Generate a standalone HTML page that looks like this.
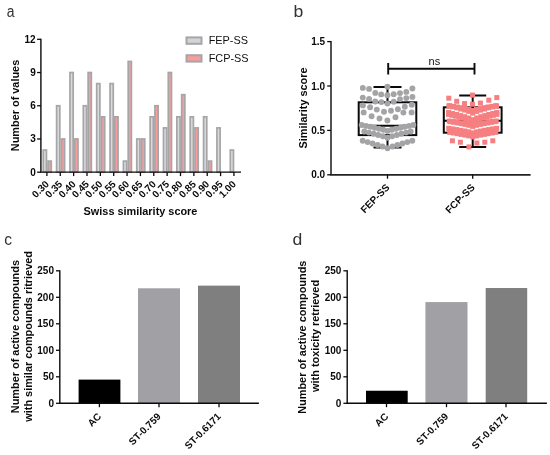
<!DOCTYPE html>
<html><head><meta charset="utf-8"><title>Figure</title>
<style>
html,body{margin:0;padding:0;background:#fff;}
body{width:550px;height:455px;overflow:hidden;}
svg{display:block;font-family:"Liberation Sans",sans-serif;}
.b{font-weight:bold;fill:#0a0a0a;font-size:10.9px;}
.t{font-size:10px;font-weight:bold;fill:#0a0a0a;}
.ax{stroke:#0a0a0a;stroke-width:1.4;fill:none;}
.tk{stroke:#0a0a0a;stroke-width:1.3;fill:none;}
.bx{stroke:#0a0a0a;stroke-width:2;fill:none;}
.pl{font-size:16px;fill:#333;}
</style></head><body>
<svg width="550" height="455" viewBox="0 0 550 455">
<rect width="550" height="455" fill="#fff"/>

<text class="pl" transform="translate(6.8 16.9) scale(0.87 1)">a</text>
<text class="pl" transform="translate(293.4 16.9) scale(1.1 1)">b</text>
<text class="pl" transform="translate(4.3 245) scale(0.97 1)">c</text>
<text class="pl" transform="translate(292.6 245.1) scale(1.1 1)">d</text>
<g id="pa">
<rect x="43.25" y="150.05" width="3.2" height="22.15" fill="#dadadb" stroke="#a6a6a9" stroke-width="1.7"/>
<rect x="48.05" y="161.12" width="3.2" height="11.07" fill="#f99c9c" stroke="#a6a6a9" stroke-width="1.7"/>
<rect x="56.61" y="105.75" width="3.2" height="66.45" fill="#dadadb" stroke="#a6a6a9" stroke-width="1.7"/>
<rect x="61.41" y="138.97" width="3.2" height="33.22" fill="#f99c9c" stroke="#a6a6a9" stroke-width="1.7"/>
<rect x="69.97" y="72.53" width="3.2" height="99.67" fill="#dadadb" stroke="#a6a6a9" stroke-width="1.7"/>
<rect x="74.77" y="138.97" width="3.2" height="33.22" fill="#f99c9c" stroke="#a6a6a9" stroke-width="1.7"/>
<rect x="83.33" y="105.75" width="3.2" height="66.45" fill="#dadadb" stroke="#a6a6a9" stroke-width="1.7"/>
<rect x="88.13" y="72.53" width="3.2" height="99.67" fill="#f99c9c" stroke="#a6a6a9" stroke-width="1.7"/>
<rect x="96.69" y="83.60" width="3.2" height="88.60" fill="#dadadb" stroke="#a6a6a9" stroke-width="1.7"/>
<rect x="101.49" y="116.83" width="3.2" height="55.37" fill="#f99c9c" stroke="#a6a6a9" stroke-width="1.7"/>
<rect x="110.05" y="83.60" width="3.2" height="88.60" fill="#dadadb" stroke="#a6a6a9" stroke-width="1.7"/>
<rect x="114.85" y="116.83" width="3.2" height="55.37" fill="#f99c9c" stroke="#a6a6a9" stroke-width="1.7"/>
<rect x="123.41" y="161.12" width="3.2" height="11.07" fill="#dadadb" stroke="#a6a6a9" stroke-width="1.7"/>
<rect x="128.21" y="61.45" width="3.2" height="110.75" fill="#f99c9c" stroke="#a6a6a9" stroke-width="1.7"/>
<rect x="136.77" y="138.97" width="3.2" height="33.22" fill="#dadadb" stroke="#a6a6a9" stroke-width="1.7"/>
<rect x="141.57" y="138.97" width="3.2" height="33.22" fill="#f99c9c" stroke="#a6a6a9" stroke-width="1.7"/>
<rect x="150.13" y="116.83" width="3.2" height="55.37" fill="#dadadb" stroke="#a6a6a9" stroke-width="1.7"/>
<rect x="154.93" y="105.75" width="3.2" height="66.45" fill="#f99c9c" stroke="#a6a6a9" stroke-width="1.7"/>
<rect x="163.49" y="127.90" width="3.2" height="44.30" fill="#dadadb" stroke="#a6a6a9" stroke-width="1.7"/>
<rect x="168.29" y="72.53" width="3.2" height="99.67" fill="#f99c9c" stroke="#a6a6a9" stroke-width="1.7"/>
<rect x="176.85" y="116.83" width="3.2" height="55.37" fill="#dadadb" stroke="#a6a6a9" stroke-width="1.7"/>
<rect x="181.65" y="94.68" width="3.2" height="77.52" fill="#f99c9c" stroke="#a6a6a9" stroke-width="1.7"/>
<rect x="190.21" y="116.83" width="3.2" height="55.37" fill="#dadadb" stroke="#a6a6a9" stroke-width="1.7"/>
<rect x="195.01" y="127.90" width="3.2" height="44.30" fill="#f99c9c" stroke="#a6a6a9" stroke-width="1.7"/>
<rect x="203.57" y="116.83" width="3.2" height="55.37" fill="#dadadb" stroke="#a6a6a9" stroke-width="1.7"/>
<rect x="208.37" y="161.12" width="3.2" height="11.07" fill="#f99c9c" stroke="#a6a6a9" stroke-width="1.7"/>
<rect x="216.93" y="127.90" width="3.2" height="44.30" fill="#dadadb" stroke="#a6a6a9" stroke-width="1.7"/>
<rect x="230.29" y="150.05" width="3.2" height="22.15" fill="#dadadb" stroke="#a6a6a9" stroke-width="1.7"/>
<path class="ax" d="M40.9 38.75V172.2"/>
<path class="ax" style="stroke-width:1.3" d="M40.199999999999996 172.2H241"/>
<path class="tk" d="M37.10 172.20H40.9"/>
<text class="t" x="35.70" y="175.70" text-anchor="end">0</text>
<path class="tk" d="M37.10 138.97H40.9"/>
<text class="t" x="35.70" y="142.47" text-anchor="end">3</text>
<path class="tk" d="M37.10 105.75H40.9"/>
<text class="t" x="35.70" y="109.25" text-anchor="end">6</text>
<path class="tk" d="M37.10 72.53H40.9"/>
<text class="t" x="35.70" y="76.03" text-anchor="end">9</text>
<path class="tk" d="M37.10 39.30H40.9"/>
<text class="t" x="35.70" y="42.80" text-anchor="end">12</text>
<path class="tk" d="M46.90 172.2V176.10"/>
<text class="t" text-anchor="end" transform="translate(49.70 184.70) rotate(-45)">0.30</text>
<path class="tk" d="M60.26 172.2V176.10"/>
<text class="t" text-anchor="end" transform="translate(63.06 184.70) rotate(-45)">0.35</text>
<path class="tk" d="M73.62 172.2V176.10"/>
<text class="t" text-anchor="end" transform="translate(76.42 184.70) rotate(-45)">0.40</text>
<path class="tk" d="M86.98 172.2V176.10"/>
<text class="t" text-anchor="end" transform="translate(89.78 184.70) rotate(-45)">0.45</text>
<path class="tk" d="M100.34 172.2V176.10"/>
<text class="t" text-anchor="end" transform="translate(103.14 184.70) rotate(-45)">0.50</text>
<path class="tk" d="M113.70 172.2V176.10"/>
<text class="t" text-anchor="end" transform="translate(116.50 184.70) rotate(-45)">0.55</text>
<path class="tk" d="M127.06 172.2V176.10"/>
<text class="t" text-anchor="end" transform="translate(129.86 184.70) rotate(-45)">0.60</text>
<path class="tk" d="M140.42 172.2V176.10"/>
<text class="t" text-anchor="end" transform="translate(143.22 184.70) rotate(-45)">0.65</text>
<path class="tk" d="M153.78 172.2V176.10"/>
<text class="t" text-anchor="end" transform="translate(156.58 184.70) rotate(-45)">0.70</text>
<path class="tk" d="M167.14 172.2V176.10"/>
<text class="t" text-anchor="end" transform="translate(169.94 184.70) rotate(-45)">0.75</text>
<path class="tk" d="M180.50 172.2V176.10"/>
<text class="t" text-anchor="end" transform="translate(183.30 184.70) rotate(-45)">0.80</text>
<path class="tk" d="M193.86 172.2V176.10"/>
<text class="t" text-anchor="end" transform="translate(196.66 184.70) rotate(-45)">0.85</text>
<path class="tk" d="M207.22 172.2V176.10"/>
<text class="t" text-anchor="end" transform="translate(210.02 184.70) rotate(-45)">0.90</text>
<path class="tk" d="M220.58 172.2V176.10"/>
<text class="t" text-anchor="end" transform="translate(223.38 184.70) rotate(-45)">0.95</text>
<path class="tk" d="M233.94 172.2V176.10"/>
<text class="t" text-anchor="end" transform="translate(236.74 184.70) rotate(-45)">1.00</text>
<text class="b" x="140.5" y="214.8" text-anchor="middle">Swiss similarity score</text>
<text class="b" text-anchor="middle" transform="translate(19.3 105.5) rotate(-90)">Number of values</text>
<rect x="186.5" y="37.4" width="15" height="6.4" fill="#d4d4d6" stroke="#a6a6a9" stroke-width="2"/>
<rect x="186.5" y="55.2" width="15" height="6.4" fill="#f99c9c" stroke="#a6a6a9" stroke-width="2"/>
<text x="208.7" y="43.8" font-size="10.9" fill="#111">FEP-SS</text>
<text x="208.7" y="61.8" font-size="10.9" fill="#111">FCP-SS</text>
</g>
<g id="pb">
<path class="ax" d="M331.0 41.05V174.8"/>
<path class="ax" style="stroke-width:1.6;stroke:#222" d="M330.3 174.9H530.6"/>
<path class="tk" d="M327.20 174.80H331.0"/>
<text class="t" x="325.20" y="178.30" text-anchor="end">0.0</text>
<path class="tk" d="M327.20 130.40H331.0"/>
<text class="t" x="325.20" y="133.90" text-anchor="end">0.5</text>
<path class="tk" d="M327.20 86.00H331.0"/>
<text class="t" x="325.20" y="89.50" text-anchor="end">1.0</text>
<path class="tk" d="M327.20 41.60H331.0"/>
<text class="t" x="325.20" y="45.10" text-anchor="end">1.5</text>
<path class="tk" d="M387.5 174.8V178.70"/>
<text class="t" text-anchor="end" transform="translate(390.20 188.10) rotate(-45)">FEP-SS</text>
<path class="tk" d="M472.7 174.8V178.70"/>
<text class="t" text-anchor="end" transform="translate(475.40 188.10) rotate(-45)">FCP-SS</text>
<text class="b" text-anchor="middle" transform="translate(306.8 108) rotate(-90)">Similarity score</text>
<path class="bx" d="M387.5 87.00V102.30M387.5 135.10V147.40M373.5 87.00H401.5M373.5 147.40H401.5M358.7 125.80H416.3"/><rect class="bx" x="358.7" y="102.30" width="57.6" height="32.80"/>
<path class="bx" d="M472.7 95.50V107.30M472.7 132.70V147.10M459.2 95.50H486.2M459.2 147.10H486.2M443.8 120.80H501.59999999999997"/><rect class="bx" x="443.8" y="107.30" width="57.8" height="25.40"/>
<g fill="#a4a4a7">
<circle cx="362.8" cy="87.9" r="2.95"/>
<circle cx="369.1" cy="88.9" r="2.95"/>
<circle cx="387.4" cy="86.8" r="2.95"/>
<circle cx="412.4" cy="88.5" r="2.95"/>
<circle cx="375.3" cy="92.9" r="2.95"/>
<circle cx="381.2" cy="94.4" r="2.95"/>
<circle cx="387.4" cy="95.3" r="2.95"/>
<circle cx="393.7" cy="94.3" r="2.95"/>
<circle cx="400.0" cy="93.1" r="2.95"/>
<circle cx="406.3" cy="91.9" r="2.95"/>
<circle cx="362.8" cy="97.6" r="2.95"/>
<circle cx="369.1" cy="98.9" r="2.95"/>
<circle cx="375.2" cy="101.5" r="2.95"/>
<circle cx="381.4" cy="102.1" r="2.95"/>
<circle cx="387.4" cy="103.6" r="2.95"/>
<circle cx="393.7" cy="101.8" r="2.95"/>
<circle cx="400.0" cy="99.1" r="2.95"/>
<circle cx="406.3" cy="98.1" r="2.95"/>
<circle cx="412.4" cy="96.9" r="2.95"/>
<circle cx="362.9" cy="105.4" r="2.95"/>
<circle cx="370.1" cy="107.2" r="2.95"/>
<circle cx="376.8" cy="109.6" r="2.95"/>
<circle cx="384.0" cy="111.7" r="2.95"/>
<circle cx="391.0" cy="110.8" r="2.95"/>
<circle cx="397.9" cy="109.3" r="2.95"/>
<circle cx="404.8" cy="106.8" r="2.95"/>
<circle cx="411.8" cy="104.8" r="2.95"/>
<circle cx="363.7" cy="112.4" r="2.95"/>
<circle cx="371.6" cy="116.3" r="2.95"/>
<circle cx="379.5" cy="118.5" r="2.95"/>
<circle cx="387.4" cy="120.5" r="2.95"/>
<circle cx="395.5" cy="117.2" r="2.95"/>
<circle cx="403.4" cy="112.6" r="2.95"/>
<circle cx="411.6" cy="112.4" r="2.95"/>
<circle cx="361.7" cy="125.0" r="2.95"/>
<circle cx="366.0" cy="125.9" r="2.95"/>
<circle cx="370.3" cy="126.8" r="2.95"/>
<circle cx="374.6" cy="127.7" r="2.95"/>
<circle cx="378.9" cy="128.7" r="2.95"/>
<circle cx="383.2" cy="129.7" r="2.95"/>
<circle cx="387.5" cy="130.9" r="2.95"/>
<circle cx="391.8" cy="129.7" r="2.95"/>
<circle cx="396.1" cy="128.7" r="2.95"/>
<circle cx="400.4" cy="127.7" r="2.95"/>
<circle cx="404.7" cy="126.8" r="2.95"/>
<circle cx="409.0" cy="125.9" r="2.95"/>
<circle cx="413.3" cy="125.0" r="2.95"/>
<circle cx="364.3" cy="131.5" r="2.95"/>
<circle cx="368.9" cy="132.6" r="2.95"/>
<circle cx="373.6" cy="133.8" r="2.95"/>
<circle cx="378.2" cy="135.0" r="2.95"/>
<circle cx="382.9" cy="136.2" r="2.95"/>
<circle cx="387.5" cy="137.7" r="2.95"/>
<circle cx="392.1" cy="136.2" r="2.95"/>
<circle cx="396.8" cy="135.0" r="2.95"/>
<circle cx="401.4" cy="133.8" r="2.95"/>
<circle cx="406.1" cy="132.6" r="2.95"/>
<circle cx="410.7" cy="131.5" r="2.95"/>
<circle cx="362.7" cy="140.8" r="2.95"/>
<circle cx="367.7" cy="142.1" r="2.95"/>
<circle cx="372.6" cy="143.5" r="2.95"/>
<circle cx="377.6" cy="145.0" r="2.95"/>
<circle cx="382.5" cy="146.5" r="2.95"/>
<circle cx="387.5" cy="148.2" r="2.95"/>
<circle cx="392.5" cy="146.5" r="2.95"/>
<circle cx="397.4" cy="145.0" r="2.95"/>
<circle cx="402.4" cy="143.5" r="2.95"/>
<circle cx="407.3" cy="142.1" r="2.95"/>
<circle cx="412.3" cy="140.8" r="2.95"/>
</g>
<g fill="#f67f81">
<rect x="446.3" y="95.7" width="5" height="5"/>
<rect x="470.0" y="92.6" width="5" height="5"/>
<rect x="494.3" y="95.1" width="5" height="5"/>
<rect x="454.2" y="98.8" width="5" height="5"/>
<rect x="486.3" y="97.7" width="5" height="5"/>
<rect x="462.0" y="101.1" width="5" height="5"/>
<rect x="470.0" y="101.7" width="5" height="5"/>
<rect x="477.9" y="100.6" width="5" height="5"/>
<rect x="447.2" y="103.2" width="5" height="5"/>
<rect x="451.0" y="103.9" width="5" height="5"/>
<rect x="454.9" y="104.5" width="5" height="5"/>
<rect x="458.7" y="105.2" width="5" height="5"/>
<rect x="462.5" y="106.0" width="5" height="5"/>
<rect x="466.4" y="106.9" width="5" height="5"/>
<rect x="470.2" y="108.0" width="5" height="5"/>
<rect x="474.0" y="106.9" width="5" height="5"/>
<rect x="477.9" y="106.0" width="5" height="5"/>
<rect x="481.7" y="105.2" width="5" height="5"/>
<rect x="485.5" y="104.5" width="5" height="5"/>
<rect x="489.4" y="103.9" width="5" height="5"/>
<rect x="493.2" y="103.2" width="5" height="5"/>
<rect x="446.4" y="103.4" width="5" height="5"/>
<rect x="450.4" y="104.4" width="5" height="5"/>
<rect x="454.3" y="105.4" width="5" height="5"/>
<rect x="458.3" y="106.5" width="5" height="5"/>
<rect x="462.3" y="107.6" width="5" height="5"/>
<rect x="466.2" y="108.9" width="5" height="5"/>
<rect x="470.2" y="110.6" width="5" height="5"/>
<rect x="474.2" y="108.9" width="5" height="5"/>
<rect x="478.1" y="107.6" width="5" height="5"/>
<rect x="482.1" y="106.5" width="5" height="5"/>
<rect x="486.1" y="105.4" width="5" height="5"/>
<rect x="490.0" y="104.4" width="5" height="5"/>
<rect x="494.0" y="103.4" width="5" height="5"/>
<rect x="446.0" y="110.0" width="5" height="5"/>
<rect x="450.0" y="111.0" width="5" height="5"/>
<rect x="454.1" y="112.0" width="5" height="5"/>
<rect x="458.1" y="113.1" width="5" height="5"/>
<rect x="462.1" y="114.2" width="5" height="5"/>
<rect x="466.2" y="115.5" width="5" height="5"/>
<rect x="470.2" y="117.2" width="5" height="5"/>
<rect x="474.2" y="115.5" width="5" height="5"/>
<rect x="478.3" y="114.2" width="5" height="5"/>
<rect x="482.3" y="113.1" width="5" height="5"/>
<rect x="486.3" y="112.0" width="5" height="5"/>
<rect x="490.4" y="111.0" width="5" height="5"/>
<rect x="494.4" y="110.0" width="5" height="5"/>
<rect x="446.0" y="111.9" width="5" height="5"/>
<rect x="449.5" y="112.8" width="5" height="5"/>
<rect x="452.9" y="113.7" width="5" height="5"/>
<rect x="456.4" y="114.6" width="5" height="5"/>
<rect x="459.8" y="115.6" width="5" height="5"/>
<rect x="463.3" y="116.7" width="5" height="5"/>
<rect x="466.7" y="117.9" width="5" height="5"/>
<rect x="470.2" y="119.5" width="5" height="5"/>
<rect x="473.7" y="117.9" width="5" height="5"/>
<rect x="477.1" y="116.7" width="5" height="5"/>
<rect x="480.6" y="115.6" width="5" height="5"/>
<rect x="484.0" y="114.6" width="5" height="5"/>
<rect x="487.5" y="113.7" width="5" height="5"/>
<rect x="490.9" y="112.8" width="5" height="5"/>
<rect x="494.4" y="111.9" width="5" height="5"/>
<rect x="446.7" y="118.5" width="5" height="5"/>
<rect x="450.6" y="119.1" width="5" height="5"/>
<rect x="454.5" y="119.7" width="5" height="5"/>
<rect x="458.4" y="120.4" width="5" height="5"/>
<rect x="462.4" y="121.1" width="5" height="5"/>
<rect x="466.3" y="121.9" width="5" height="5"/>
<rect x="470.2" y="123.0" width="5" height="5"/>
<rect x="474.1" y="121.9" width="5" height="5"/>
<rect x="478.0" y="121.1" width="5" height="5"/>
<rect x="481.9" y="120.4" width="5" height="5"/>
<rect x="485.9" y="119.7" width="5" height="5"/>
<rect x="489.8" y="119.1" width="5" height="5"/>
<rect x="493.7" y="118.5" width="5" height="5"/>
<rect x="447.7" y="119.2" width="5" height="5"/>
<rect x="451.4" y="119.8" width="5" height="5"/>
<rect x="455.2" y="120.5" width="5" height="5"/>
<rect x="458.9" y="121.2" width="5" height="5"/>
<rect x="462.7" y="121.9" width="5" height="5"/>
<rect x="466.4" y="122.8" width="5" height="5"/>
<rect x="470.2" y="123.9" width="5" height="5"/>
<rect x="473.9" y="122.8" width="5" height="5"/>
<rect x="477.7" y="121.9" width="5" height="5"/>
<rect x="481.4" y="121.2" width="5" height="5"/>
<rect x="485.2" y="120.5" width="5" height="5"/>
<rect x="488.9" y="119.8" width="5" height="5"/>
<rect x="492.7" y="119.2" width="5" height="5"/>
<rect x="446.2" y="125.8" width="5" height="5"/>
<rect x="450.2" y="126.4" width="5" height="5"/>
<rect x="454.2" y="127.1" width="5" height="5"/>
<rect x="458.2" y="127.8" width="5" height="5"/>
<rect x="462.2" y="128.5" width="5" height="5"/>
<rect x="466.2" y="129.3" width="5" height="5"/>
<rect x="470.2" y="130.4" width="5" height="5"/>
<rect x="474.2" y="129.3" width="5" height="5"/>
<rect x="478.2" y="128.5" width="5" height="5"/>
<rect x="482.2" y="127.8" width="5" height="5"/>
<rect x="486.2" y="127.1" width="5" height="5"/>
<rect x="490.2" y="126.4" width="5" height="5"/>
<rect x="494.2" y="125.8" width="5" height="5"/>
<rect x="447.2" y="129.9" width="5" height="5"/>
<rect x="451.0" y="130.5" width="5" height="5"/>
<rect x="454.9" y="131.2" width="5" height="5"/>
<rect x="458.7" y="131.9" width="5" height="5"/>
<rect x="462.5" y="132.6" width="5" height="5"/>
<rect x="466.4" y="133.4" width="5" height="5"/>
<rect x="470.2" y="134.5" width="5" height="5"/>
<rect x="474.0" y="133.4" width="5" height="5"/>
<rect x="477.9" y="132.6" width="5" height="5"/>
<rect x="481.7" y="131.9" width="5" height="5"/>
<rect x="485.5" y="131.2" width="5" height="5"/>
<rect x="489.4" y="130.5" width="5" height="5"/>
<rect x="493.2" y="129.9" width="5" height="5"/>
<rect x="449.9" y="138.3" width="5" height="5"/>
<rect x="457.9" y="139.7" width="5" height="5"/>
<rect x="466.4" y="144.4" width="5" height="5"/>
<rect x="474.4" y="140.5" width="5" height="5"/>
<rect x="482.3" y="139.7" width="5" height="5"/>
<rect x="490.3" y="138.3" width="5" height="5"/>
</g>
<path class="ax" style="stroke-width:1.9" d="M388.2 68.7H474.5M388.2 63.1V74.5M474.5 63.1V74.5"/>
<text x="434.4" y="64.9" font-size="11" fill="#111" text-anchor="middle">ns</text>
</g>
<g id="pc">
<rect x="78.6" y="379.61" width="41.80" height="23.69" fill="#000"/>
<rect x="138" y="288.29" width="42.00" height="115.01" fill="#a1a1a5"/>
<rect x="198" y="285.64" width="42.00" height="117.66" fill="#7f7f7f"/>
<path class="ax" d="M59.8 270.25V403.3"/>
<path class="ax" d="M59.099999999999994 403.3H258.9"/>
<path class="tk" d="M56.00 403.30H59.8"/>
<text class="t" x="54.00" y="406.80" text-anchor="end">0</text>
<path class="tk" d="M56.00 376.80H59.8"/>
<text class="t" x="54.00" y="380.30" text-anchor="end">50</text>
<path class="tk" d="M56.00 350.30H59.8"/>
<text class="t" x="54.00" y="353.80" text-anchor="end">100</text>
<path class="tk" d="M56.00 323.80H59.8"/>
<text class="t" x="54.00" y="327.30" text-anchor="end">150</text>
<path class="tk" d="M56.00 297.30H59.8"/>
<text class="t" x="54.00" y="300.80" text-anchor="end">200</text>
<path class="tk" d="M56.00 270.80H59.8"/>
<text class="t" x="54.00" y="274.30" text-anchor="end">250</text>
<path class="tk" d="M99.4 403.3V407.20"/>
<text class="t" text-anchor="end" transform="translate(101.90 417.10) rotate(-45)">AC</text>
<path class="tk" d="M159 403.3V407.20"/>
<text class="t" text-anchor="end" transform="translate(161.50 417.10) rotate(-45)">ST-0.759</text>
<path class="tk" d="M219 403.3V407.20"/>
<text class="t" text-anchor="end" transform="translate(221.50 417.10) rotate(-45)">ST-0.6171</text>
<text class="b" text-anchor="middle" transform="translate(19.1 336.6) rotate(-90)">Number of active compounds</text>
<text class="b" text-anchor="middle" transform="translate(32.3 336.4) rotate(-90)">with similar compounds ritrieved</text>
</g>
<g id="pd">
<rect x="366" y="390.74" width="41.70" height="12.56" fill="#000"/>
<rect x="425.4" y="302.07" width="42.10" height="101.23" fill="#a1a1a5"/>
<rect x="485.7" y="288.02" width="41.50" height="115.28" fill="#7f7f7f"/>
<path class="ax" d="M347.2 270.25V403.3"/>
<path class="ax" d="M346.5 403.3H546.9"/>
<path class="tk" d="M343.40 403.30H347.2"/>
<text class="t" x="341.40" y="406.80" text-anchor="end">0</text>
<path class="tk" d="M343.40 376.80H347.2"/>
<text class="t" x="341.40" y="380.30" text-anchor="end">50</text>
<path class="tk" d="M343.40 350.30H347.2"/>
<text class="t" x="341.40" y="353.80" text-anchor="end">100</text>
<path class="tk" d="M343.40 323.80H347.2"/>
<text class="t" x="341.40" y="327.30" text-anchor="end">150</text>
<path class="tk" d="M343.40 297.30H347.2"/>
<text class="t" x="341.40" y="300.80" text-anchor="end">200</text>
<path class="tk" d="M343.40 270.80H347.2"/>
<text class="t" x="341.40" y="274.30" text-anchor="end">250</text>
<path class="tk" d="M386.5 403.3V407.20"/>
<text class="t" text-anchor="end" transform="translate(389.00 417.10) rotate(-45)">AC</text>
<path class="tk" d="M446.5 403.3V407.20"/>
<text class="t" text-anchor="end" transform="translate(449.00 417.10) rotate(-45)">ST-0.759</text>
<path class="tk" d="M506 403.3V407.20"/>
<text class="t" text-anchor="end" transform="translate(508.50 417.10) rotate(-45)">ST-0.6171</text>
<text class="b" text-anchor="middle" transform="translate(306.3 337.2) rotate(-90)">Number of active compounds</text>
<text class="b" text-anchor="middle" transform="translate(319.2 335.9) rotate(-90)">with toxicity retrieved</text>
</g>
</svg></body></html>
